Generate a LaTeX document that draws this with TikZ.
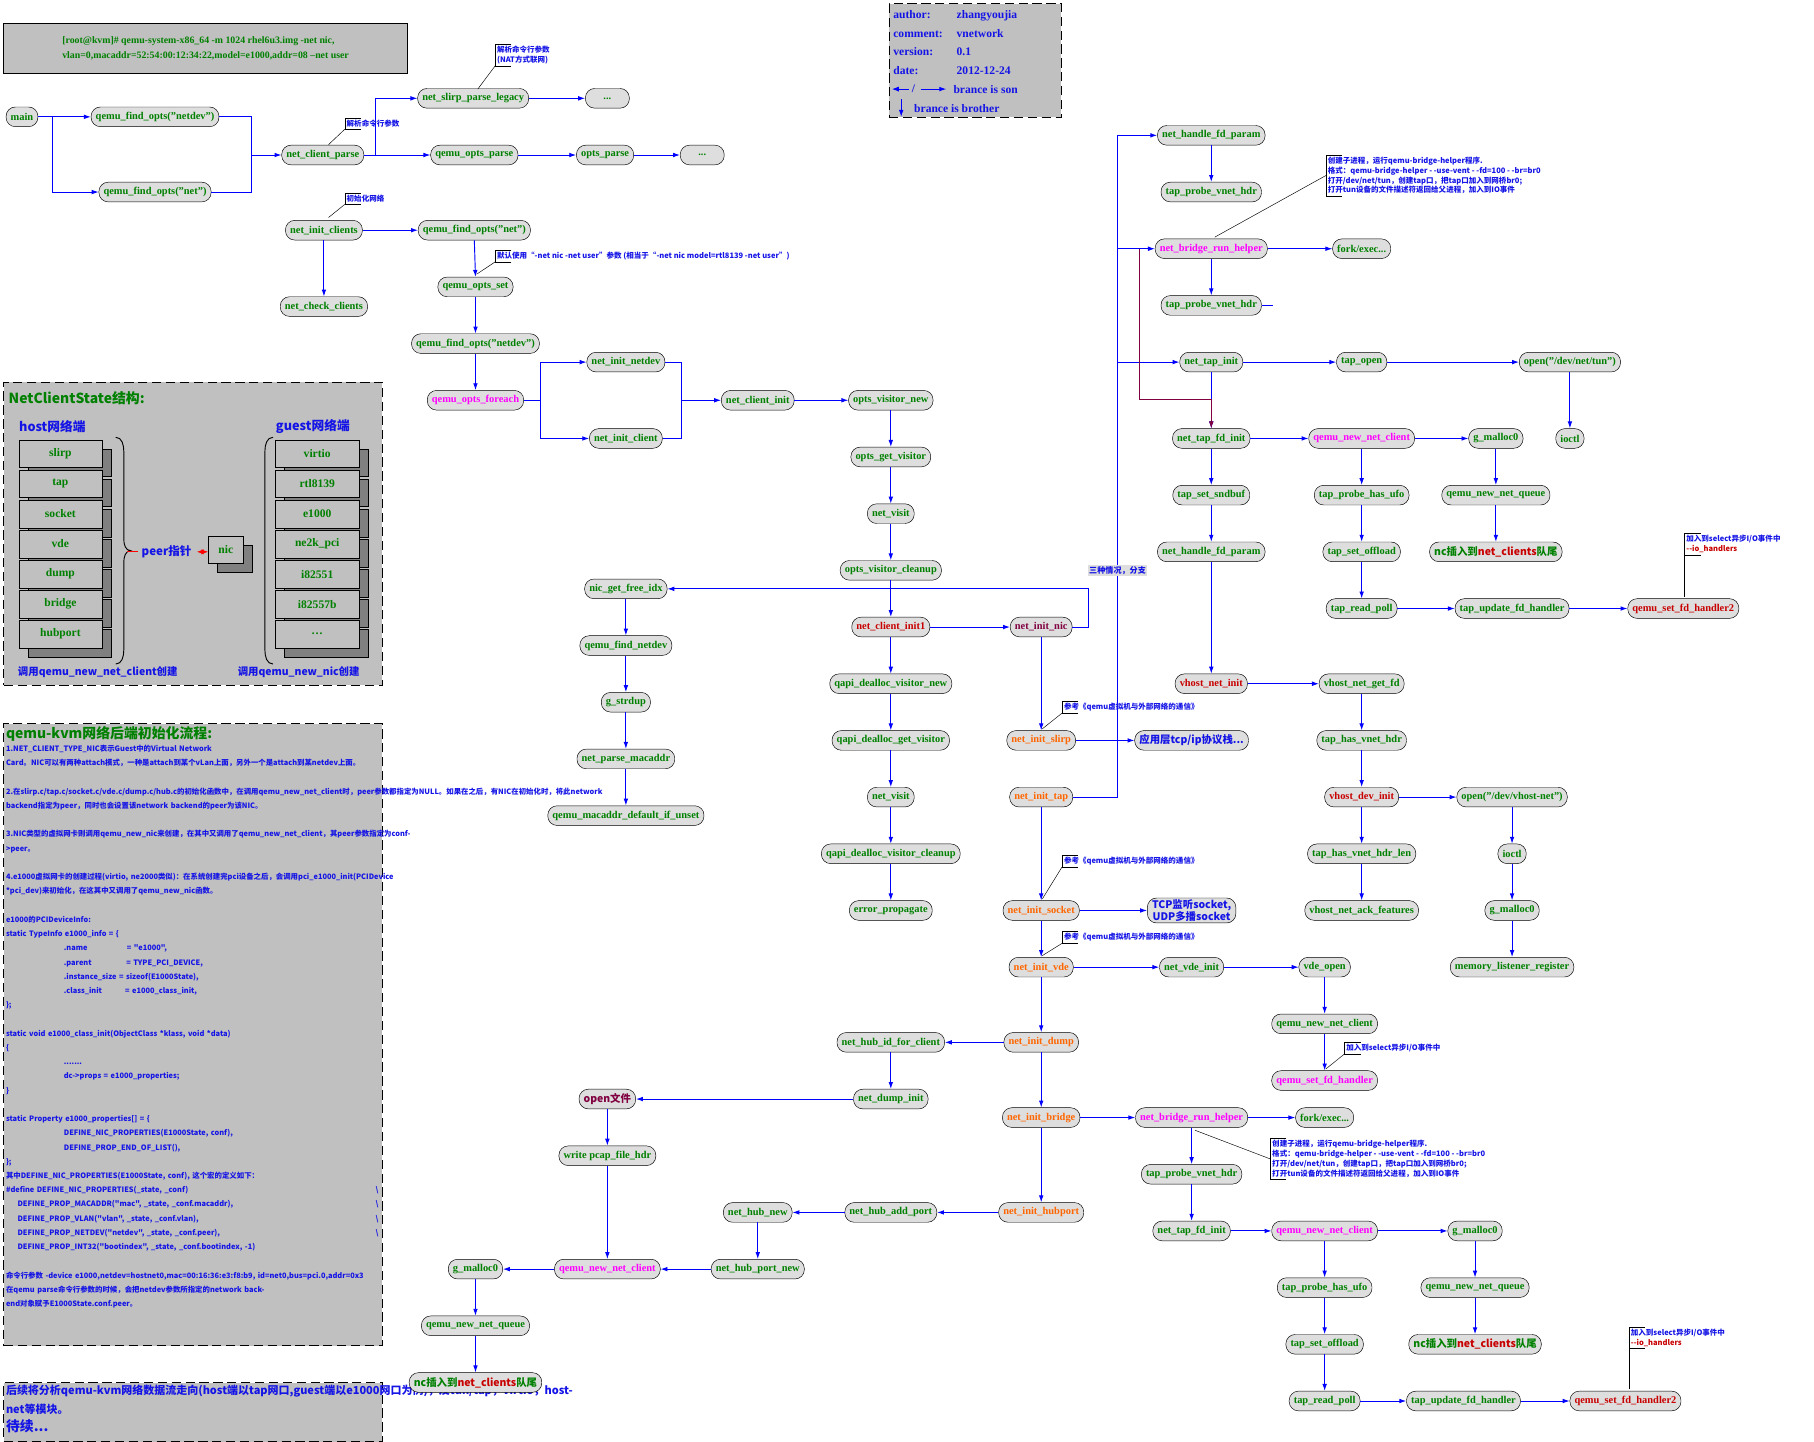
\documentclass[tikz,border=0pt]{standalone}
\usepackage{fontspec}
\setmainfont{Liberation Serif}
\newfontfamily\cjk{Noto Sans CJK SC}
\usetikzlibrary{arrows.meta}
\definecolor{ng}{RGB}{0,128,0}
\definecolor{nb}{RGB}{20,20,230}
\definecolor{nfill}{RGB}{222,222,222}
\definecolor{pg}{RGB}{192,192,192}
\definecolor{mg}{RGB}{255,0,255}
\definecolor{og}{RGB}{255,102,0}
\definecolor{rd}{RGB}{200,0,0}
\definecolor{dr}{RGB}{128,0,64}
\tikzset{
 nd/.style={draw,fill=nfill,rounded corners=8pt,minimum height=17pt,inner xsep=4pt,inner ysep=1pt,text=ng,font=\fontsize{9}{10}\selectfont\bfseries},
 mgn/.style={nd,text=mg},
 ogn/.style={nd,text=og},
 rdn/.style={nd,text=rd},
 ar/.style={-{Latex[length=6pt,width=4pt]},draw=blue,line width=0.8pt},
 ln/.style={draw=blue,line width=0.8pt},
 cal/.style={inner sep=1.5pt,align=left,text=nb,font=\cjk\fontsize{6.5}{8.5}\selectfont\bfseries},
 panel/.style={draw,dashed,dash pattern=on 8pt off 4pt,fill=pg,line width=0.8pt},
 cube/.style={draw,fill=pg,minimum width=72pt,minimum height=24pt,text=ng,font=\fontsize{10}{11}\selectfont\bfseries}
}
\newcommand\brk[1]{\draw[thin] ([xshift=14pt]#1.north west) -- (#1.north west) -- (#1.south west) -- ([xshift=14pt]#1.south west);}
\newcommand\cub[4]{\fill[gray] (#1+8,#2+8) rectangle (#1+#3+8,#2+24+8);\draw (#1+8,#2+8) rectangle (#1+#3+8,#2+24+8);
 \node[cube,minimum width=#3 pt,anchor=north west] at (#1,#2) {#4};}
\begin{document}
\begin{tikzpicture}[x=1pt,y=-1pt]
\useasboundingbox (0,0) rectangle (1568,1246);
% ---- top-left command
\node[draw,fill=pg,minimum width=349pt,minimum height=43pt,anchor=north west,align=left,text=ng,font=\fontsize{8.5}{13}\selectfont\bfseries,inner xsep=4pt] (cmd) at (3,20) {[root@kvm]\# qemu-system-x86\_64 -m 1024 rhel6u3.img -net nic,\\vlan=0,macaddr=52:54:00:12:34:22,model=e1000,addr=08 --net user};
% ---- author box
\node[panel,minimum width=149pt,minimum height=98pt,anchor=north west] (auth) at (768,3) {};
\node[anchor=north west,text=nb,font=\fontsize{10}{16}\selectfont\bfseries,align=left,inner sep=0] (authtxt) at (772,5) {\begin{tabular}{@{}l@{\hspace{12pt}}l@{}}author: & zhangyoujia\\comment: & vnetwork\\version: & 0.1\\date: & 2012-12-24\end{tabular}};
\draw[ar,{Latex[length=6pt]}-] (771,77) -- (786,77); \draw[ar] (796,77) -- (818,77);
\node[anchor=west,text=nb,font=\fontsize{10}{11}\selectfont\bfseries,inner sep=0] (l1) at (788,77) {/};
\node[anchor=west,text=nb,font=\fontsize{10}{11}\selectfont\bfseries,inner sep=0] (l2) at (824,77) {brance is son};
\draw[ar] (779,86) -- (779,101);
\node[anchor=west,text=nb,font=\fontsize{10}{11}\selectfont\bfseries,inner sep=0] (l3) at (790,94) {brance is brother};
% ---- NetClientState panel
\node[panel,minimum width=327pt,minimum height=262pt,anchor=north west] (p1) at (3,330) {};
\node[anchor=west,text=ng,font=\cjk\fontsize{12}{13}\selectfont\bfseries] (p1t) at (4,344) {NetClientState结构:};
\node[anchor=west,text=nb,font=\cjk\fontsize{11}{12}\selectfont\bfseries] (p1h) at (13,369) {host网络端};
\node[anchor=west,text=nb,font=\cjk\fontsize{11}{12}\selectfont\bfseries] (p1g) at (235,369) {guest网络端};
\foreach \t [count=\i from 0] in {slirp,tap,socket,vde,dump,bridge,hubport}{\cub{16}{380+26*\i}{72}{\t}}
\foreach \t [count=\i from 0] in {virtio,rtl8139,e1000,ne2k\_pci,i82551,i82557b,{\ldots}}{\cub{238}{380+26*\i}{72}{\t}}
\cub{180}{463}{30}{nic}
\draw[thick] (100,378) to[out=0,in=90] (107,390) -- (107,466) to[out=-90,in=180] (113,476) to[out=180,in=90] (107,486) -- (107,562) to[out=-90,in=0] (100,574);
\draw[thick] (236,378) to[out=180,in=90] (229,390) -- (229,562) to[out=-90,in=180] (236,574);
\draw[red,thick,{Latex[length=6pt]}-{Latex[length=6pt]}] (110,477) -- (119,477) (170,477) -- (180,477);
\node[text=nb,font=\cjk\fontsize{10}{11}\selectfont\bfseries,inner sep=0] (peer) at (144,477) {peer指针};
\node[anchor=west,text=nb,font=\cjk\fontsize{9}{10}\selectfont\bfseries] (c1) at (12,581) {调用qemu\_new\_net\_client创建};
\node[anchor=west,text=nb,font=\cjk\fontsize{9}{10}\selectfont\bfseries] (c2) at (202,581) {调用qemu\_new\_nic创建};
% ---- qemu-kvm panel
\node[panel,minimum width=327pt,minimum height=538pt,anchor=north west] (p2) at (3,625) {};
\node[anchor=north west,text=ng,font=\cjk\fontsize{12}{13}\selectfont\bfseries,inner sep=1pt] (p2t) at (4,627) {qemu-kvm网络后端初始化流程:};
\node[anchor=north west,text width=322pt,align=left,text=nb,font=\cjk\fontsize{6.4}{12.3}\selectfont\bfseries,inner sep=1pt] (p2b) at (4,643) {%
1.NET\_CLIENT\_TYPE\_NIC表示Guest中的Virtual Network Card。NIC可以有两种attach模式，一种是attach到某个vLan上面，另外一个是attach到某netdev上面。\\[12.3pt]
2.在slirp.c/tap.c/socket.c/vde.c/dump.c/hub.c的初始化函数中，在调用qemu\_new\_net\_client时，peer参数都指定为NULL。如果在之后，有NIC在初始化时，将此network backend指定为peer，同时也会设置该network backend的peer为该NIC。\\[12.3pt]
3.NIC类型的虚拟网卡则调用qemu\_new\_nic来创建，在其中又调用了qemu\_new\_net\_client，其peer参数指定为conf->peer。\\[12.3pt]
4.e1000虚拟网卡的创建过程(virtio, ne2000类似)：在系统创建完pci设备之后，会调用pci\_e1000\_init(PCIDevice *pci\_dev)来初始化，在这其中又调用了qemu\_new\_nic函数。\\[12.3pt]
e1000的PCIDeviceInfo:\\
static TypeInfo e1000\_info = \{\\
\hspace*{50pt}.name\hspace*{34pt}= "e1000",\\
\hspace*{50pt}.parent\hspace*{30pt}= TYPE\_PCI\_DEVICE,\\
\hspace*{50pt}.instance\_size = sizeof(E1000State),\\
\hspace*{50pt}.class\_init\hspace*{20pt}= e1000\_class\_init,\\
\};\\[12.3pt]
static void e1000\_class\_init(ObjectClass *klass, void *data)\\
\{\\
\hspace*{50pt}.......\\
\hspace*{50pt}dc->props = e1000\_properties;\\
\}\\[12.3pt]
static Property e1000\_properties[] = \{\\
\hspace*{50pt}DEFINE\_NIC\_PROPERTIES(E1000State, conf),\\
\hspace*{50pt}DEFINE\_PROP\_END\_OF\_LIST(),\\
\};\\
其中DEFINE\_NIC\_PROPERTIES(E1000State, conf), 这个宏的定义如下：\\
\#define DEFINE\_NIC\_PROPERTIES(\_state, \_conf)\hfill\textbackslash\hspace*{20pt}\\
\hspace*{10pt}DEFINE\_PROP\_MACADDR("mac", \_state, \_conf.macaddr),\hfill\textbackslash\hspace*{20pt}\\
\hspace*{10pt}DEFINE\_PROP\_VLAN("vlan", \_state, \_conf.vlan),\hfill\textbackslash\hspace*{20pt}\\
\hspace*{10pt}DEFINE\_PROP\_NETDEV("netdev", \_state, \_conf.peer),\hfill\textbackslash\hspace*{20pt}\\
\hspace*{10pt}DEFINE\_PROP\_INT32("bootindex", \_state, \_conf.bootindex, -1)\\[12.3pt]
命令行参数 -device e1000,netdev=hostnet0,mac=00:16:36:e3:f8:b9, id=net0,bus=pci.0,addr=0x3\\
在qemu parse命令行参数的时候，会把netdev参数所指定的network backend对象赋予E1000State.conf.peer。};
% ---- bottom panel
\node[panel,minimum width=327pt,minimum height=51pt,anchor=north west] (p3) at (3,1195) {};
\node[anchor=north west,text width=322pt,align=left,text=nb,font=\cjk\fontsize{9.5}{16}\selectfont\bfseries,inner sep=1pt] (p3t) at (4,1196) {后续将分析qemu-kvm网络数据流走向(host端以tap网口,guest端以e1000网口为例)，及tun/tap，virtio，host-net等模块。\\{\fontsize{12}{14}\selectfont 待续...}};

% ================= nodes =================
\node[nd] (main) at (19,101) {main};
\node[nd] (fo1) at (134,101) {qemu\_find\_opts("netdev")};
\node[nd] (fo2) at (134,166) {qemu\_find\_opts("net")};
\node[nd] (ncp) at (279,134) {net\_client\_parse};
\node[nd] (nspl) at (409,85) {net\_slirp\_parse\_legacy};
\node[nd,minimum width=38pt] (d1) at (525,85) {...};
\node[nd] (qop) at (410,134) {qemu\_opts\_parse};
\node[nd] (op) at (523,134) {opts\_parse};
\node[nd,minimum width=38pt] (d2) at (607,134) {...};
\node[nd] (nic1) at (280,199) {net\_init\_clients};
\node[nd] (fo3) at (410,199) {qemu\_find\_opts("net")};
\node[nd] (ncc) at (280,265) {net\_check\_clients};
\node[nd] (qos) at (411,248) {qemu\_opts\_set};
\node[nd] (fo4) at (411,297) {qemu\_find\_opts("netdev")};
\node[mgn] (qof) at (411,346) {qemu\_opts\_foreach};
\node[nd] (nind) at (541,313) {net\_init\_netdev};
\node[nd] (ninc) at (541,379) {net\_init\_client};
\node[nd] (nci) at (655,346) {net\_client\_init};
\node[nd] (ovn) at (770,346) {opts\_visitor\_new};
\node[nd] (ogv) at (770,395) {opts\_get\_visitor};
\node[nd] (nv1) at (770,444) {net\_visit};
\node[nd] (ovc) at (770,493) {opts\_visitor\_cleanup};
\node[nd] (ngfi) at (541,509) {nic\_get\_free\_idx};
\node[nd] (qfn) at (541,558) {qemu\_find\_netdev};
\node[nd] (gsd) at (541,607) {g\_strdup};
\node[nd] (npm) at (541,656) {net\_parse\_macaddr};
\node[nd] (qmd) at (541,705) {qemu\_macaddr\_default\_if\_unset};
\node[rdn] (nci1) at (770,542) {net\_client\_init1};
\node[nd,text=dr] (ninic) at (900,542) {net\_init\_nic};
\node[nd] (qdvn) at (770,591) {qapi\_dealloc\_visitor\_new};
\node[nd] (qdgv) at (770,640) {qapi\_dealloc\_get\_visitor};
\node[nd] (nv2) at (770,689) {net\_visit};
\node[nd] (qdvc) at (770,738) {qapi\_dealloc\_visitor\_cleanup};
\node[nd] (ep) at (770,787) {error\_propagate};
\node[ogn] (nisl) at (900,640) {net\_init\_slirp};
\node[nd,text=nb,font=\cjk\fontsize{9}{10}\selectfont\bfseries] (app) at (1030,640) {应用层tcp/ip协议栈...};
\node[ogn] (nitap) at (900,689) {net\_init\_tap};
\node[ogn] (nisock) at (900,787) {net\_init\_socket};
\node[nd,text=nb,align=center,font=\cjk\fontsize{9}{11}\selectfont\bfseries] (tcp) at (1030,787) {TCP监听socket,\\UDP多播socket};
\node[ogn] (nivde) at (900,836) {net\_init\_vde};
\node[nd] (nvi) at (1030,836) {net\_vde\_init};
\node[nd] (vop) at (1145,836) {vde\_open};
\node[nd] (qnnc4) at (1145,885) {qemu\_new\_net\_client};
\node[mgn] (qsfh) at (1145,934) {qemu\_set\_fd\_handler};
\node[ogn] (nidump) at (900,901) {net\_init\_dump};
\node[nd] (hid) at (770,901) {net\_hub\_id\_for\_client};
\node[nd] (ndi) at (770,950) {net\_dump\_init};
\node[nd,text=dr,font=\cjk\fontsize{9}{10}\selectfont\bfseries] (opf) at (525,950) {open文件};
\node[nd] (wph) at (525,999) {write pcap\_file\_hdr};
\node[ogn] (nibr) at (900,966) {net\_init\_bridge};
\node[mgn] (nbrh2) at (1030,966) {net\_bridge\_run\_helper};
\node[nd] (fe2) at (1145,966) {fork/exec...};
\node[nd] (tpv3) at (1030,1015) {tap\_probe\_vnet\_hdr};
\node[nd] (ntfi2) at (1030,1064) {net\_tap\_fd\_init};
\node[mgn] (qnnc2) at (1145,1064) {qemu\_new\_net\_client};
\node[nd] (gm2) at (1275,1064) {g\_malloc0};
\node[nd] (tpu2) at (1145,1113) {tap\_probe\_has\_ufo};
\node[nd] (qnq2) at (1275,1113) {qemu\_new\_net\_queue};
\node[nd] (tso2) at (1145,1162) {tap\_set\_offload};
\node[nd,font=\cjk\fontsize{9}{10}\selectfont\bfseries] (ins2) at (1275,1162) {nc插入到\textcolor{rd}{net\_clients}队尾};
\node[nd] (trp2) at (1145,1211) {tap\_read\_poll};
\node[nd] (tufh2) at (1265,1211) {tap\_update\_fd\_handler};
\node[rdn] (qsfh22) at (1405,1211) {qemu\_set\_fd\_handler2};
\node[ogn] (nihp) at (900,1048) {net\_init\_hubport};
\node[nd] (nhap) at (770,1048) {net\_hub\_add\_port};
\node[nd] (nhn) at (655,1048) {net\_hub\_new};
\node[nd] (nhpn) at (655,1097) {net\_hub\_port\_new};
\node[mgn] (qnnc3) at (525,1097) {qemu\_new\_net\_client};
\node[nd] (gm3) at (411,1097) {g\_malloc0};
\node[nd] (qnq3) at (411,1146) {qemu\_new\_net\_queue};
\node[nd,font=\cjk\fontsize{9}{10}\selectfont\bfseries] (ins3) at (411,1195) {nc插入到\textcolor{rd}{net\_clients}队尾};
% right upper
\node[nd] (hfd1) at (1047,117) {net\_handle\_fd\_param};
\node[nd] (tpv1) at (1047,166) {tap\_probe\_vnet\_hdr};
\node[mgn] (nbrh1) at (1047,215) {net\_bridge\_run\_helper};
\node[nd] (fe1) at (1177,215) {fork/exec...};
\node[nd] (tpv2) at (1047,264) {tap\_probe\_vnet\_hdr};
\node[nd] (nti) at (1047,313) {net\_tap\_init};
\node[nd] (top) at (1177,313) {tap\_open};
\node[nd] (odnt) at (1357,313) {open("/dev/net/tun")};
\node[nd] (ioc1) at (1357,379) {ioctl};
\node[nd] (ntfi1) at (1047,379) {net\_tap\_fd\_init};
\node[mgn] (qnnc1) at (1177,379) {qemu\_new\_net\_client};
\node[nd] (gm1) at (1293,379) {g\_malloc0};
\node[nd] (tss) at (1047,428) {tap\_set\_sndbuf};
\node[nd] (tpu1) at (1177,428) {tap\_probe\_has\_ufo};
\node[nd] (qnq1) at (1293,428) {qemu\_new\_net\_queue};
\node[nd] (hfd2) at (1047,477) {net\_handle\_fd\_param};
\node[nd] (tso1) at (1177,477) {tap\_set\_offload};
\node[nd,font=\cjk\fontsize{9}{10}\selectfont\bfseries] (ins1) at (1293,477) {nc插入到\textcolor{rd}{net\_clients}队尾};
\node[nd] (trp1) at (1177,526) {tap\_read\_poll};
\node[nd] (tufh1) at (1307,526) {tap\_update\_fd\_handler};
\node[rdn] (qsfh21) at (1455,526) {qemu\_set\_fd\_handler2};
\node[rdn] (vni) at (1047,591) {vhost\_net\_init};
\node[nd] (vngf) at (1177,591) {vhost\_net\_get\_fd};
\node[nd] (thv1) at (1177,640) {tap\_has\_vnet\_hdr};
\node[rdn] (vdi) at (1177,689) {vhost\_dev\_init};
\node[nd] (odvn) at (1307,689) {open("/dev/vhost-net")};
\node[nd] (thvl) at (1177,738) {tap\_has\_vnet\_hdr\_len};
\node[nd] (ioc2) at (1307,738) {ioctl};
\node[nd] (vnaf) at (1177,787) {vhost\_net\_ack\_features};
\node[nd] (gm4) at (1307,787) {g\_malloc0};
\node[nd] (mlr) at (1307,836) {memory\_listener\_register};

% ================= edges =================
\draw[ar] (main) -- (fo1);
\draw[ar] (main.east) -- ++(12,0) |- (fo2.west);
\coordinate (j1) at (217,134);
\draw[ln] (fo1.east) -| (j1) |- (fo2.east);
\draw[ar] (j1) -- (ncp.west);
\draw[ar] (ncp.east) -- ++(10,0) |- (nspl.west);
\foreach \a/\b in {nspl/d1,ncp/qop,qop/op,op/d2,nic1/fo3,nci/ovn,nci1/ninic,nisl/app,nisock/tcp,nivde/nvi,nvi/vop,nibr/nbrh2,nbrh2/fe2,ntfi2/qnnc2,qnnc2/gm2,trp2/tufh2,tufh2/qsfh22,nbrh1/fe1,nti/top,top/odnt,ntfi1/qnnc1,qnnc1/gm1,trp1/tufh1,tufh1/qsfh21,vni/vngf,vdi/odvn,nidump/hid,ndi/opf,nihp/nhap,nhap/nhn,nhpn/qnnc3,qnnc3/gm3}
  \draw[ar] (\a) -- (\b);
\foreach \a/\b in {nic1/ncc,fo3/qos,qos/fo4,fo4/qof,ovn/ogv,ogv/nv1,nv1/ovc,ovc/nci1,nci1/qdvn,qdvn/qdgv,qdgv/nv2,nv2/qdvc,qdvc/ep,ngfi/qfn,qfn/gsd,gsd/npm,npm/qmd,ninic/nisl,nitap/nisock,nisock/nivde,nivde/nidump,nidump/nibr,nibr/nihp,vop/qnnc4,qnnc4/qsfh,hid/ndi,opf/wph,wph/qnnc3,nhn/nhpn,gm3/qnq3,qnq3/ins3,nbrh2/tpv3,tpv3/ntfi2,qnnc2/tpu2,tpu2/tso2,tso2/trp2,gm2/qnq2,qnq2/ins2,hfd1/tpv1,nbrh1/tpv2,nti/ntfi1,ntfi1/tss,tss/hfd2,hfd2/vni,qnnc1/tpu1,tpu1/tso1,tso1/trp1,gm1/qnq1,qnq1/ins1,odnt/ioc1,vngf/thv1,thv1/vdi,vdi/thvl,thvl/vnaf,odvn/ioc2,ioc2/gm4,gm4/mlr}
  \draw[ar] (\a.south) -- (\b.north);
\draw[ar] (qof.east) -- ++(14,0) |- (nind.west);
\draw[ar] (qof.east) -- ++(14,0) |- (ninc.west);
\draw[ln] (nind.east) -- ++(14,0) |- (ninc.east);
\draw[ar] ([xshift=14pt]nind.east) |- (nci.west);
\draw[ar] (ninic.east) -- ++(14,0) |- (ngfi.east);
\coordinate (v1) at (966,689);
\coordinate (v2) at (966,117);
\draw[ln] (nitap.east) -- (v1) -- (v2);
\draw[ar] (v2) -- (hfd1.west);
\draw[ar] (966,215) -- (nbrh1.west);
\draw[ar] (966,313) -- (nti.west);
\draw[ln] (tpv2.east) -- ++(10,0);
\draw[-{Latex[length=6pt,width=4pt]},draw=dr,line width=0.8pt] (985,215) -- (985,345) -- (1047,345) -- (ntfi1.north);
\node[fill=nfill,text=nb,font=\cjk\fontsize{7}{8}\selectfont\bfseries,inner sep=1pt] (sqk) at (966,493) {三种情况，分支};

% ================= callouts =================
\node[cal,anchor=north west] (k1) at (428,38) {解析命令行参数\\(NAT方式联网)}; \brk{k1}
\draw[thin] (k1.south west) -- (413,77);
\node[cal,anchor=north west] (k2) at (298,102) {解析命令行参数}; \brk{k2}
\draw[thin] (k2.south west) -- (284,125);
\node[cal,anchor=north west] (k3) at (298,167) {初始化网络}; \brk{k3}
\draw[thin] (k3.south west) -- (284,188);
\node[cal,anchor=north west] (k4) at (428,216) {默认使用“-net nic -net user”参数 (相当于“-net nic model=rtl8139 -net user”)}; \brk{k4}
\draw[thin] (k4.south west) -- (412,237);
\node[cal,anchor=north west] (k5) at (918,606) {参考《qemu虚拟机与外部网络的通信》}; \brk{k5}
\draw[thin] (k5.south west) -- (901,630);
\node[cal,anchor=north west] (k6) at (918,739) {参考《qemu虚拟机与外部网络的通信》}; \brk{k6}
\draw[thin] (k6.south west) -- (901,777);
\node[cal,anchor=north west] (k7) at (918,805) {参考《qemu虚拟机与外部网络的通信》}; \brk{k7}
\draw[thin] (k7.south west) -- (901,826);
\node[cal,anchor=north west] (k8) at (1162,901) {加入到select异步I/O事件中}; \brk{k8}
\draw[thin] (k8.south west) -- (1146,924);
\node[cal,anchor=north west] (k9) at (1456,461) {加入到select异步I/O事件中\\\textcolor{rd}{--io\_handlers}}; \brk{k9}
\draw[thin] (k9.south west) -- (1456,516);
\node[cal,anchor=north west] (k10) at (1408,1147) {加入到select异步I/O事件中\\\textcolor{rd}{--io\_handlers}}; \brk{k10}
\draw[thin] (k10.south west) -- (1408,1201);
\node[cal,anchor=north west] (k11) at (1146,134) {创建子进程，运行qemu-bridge-helper程序.\\格式：qemu-bridge-helper - -use-vent - -fd=100 - -br=br0\\打开/dev/net/tun，创建tap口，把tap口加入到网桥br0;\\打开tun设备的文件描述符返回给父进程，加入到IO事件}; \brk{k11}
\draw[thin] (k11.west) -- (1050,205);
\node[cal,anchor=north west] (k12) at (1098,984) {创建子进程，运行qemu-bridge-helper程序.\\格式：qemu-bridge-helper - -use-vent - -fd=100 - -br=br0\\打开/dev/net/tun，创建tap口，把tap口加入到网桥br0;\\打开tun设备的文件描述符返回给父进程，加入到IO事件}; \brk{k12}
\draw[thin] (k12.west) -- (1033,977);
\end{tikzpicture}
\end{document}
